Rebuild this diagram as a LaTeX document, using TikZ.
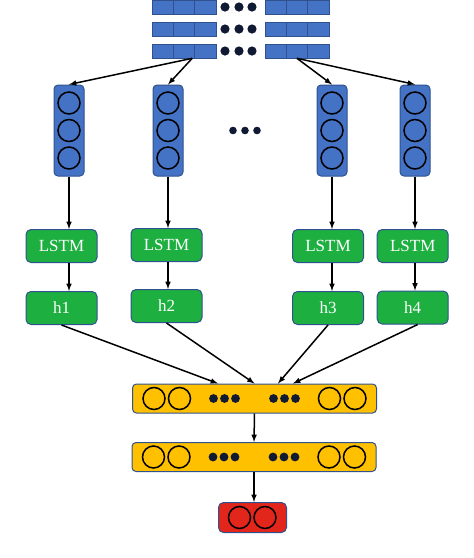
\documentclass[tikz,border=0pt]{standalone}
\usepackage{fontspec}
\setmainfont{Liberation Serif}
\usetikzlibrary{arrows,positioning}

\definecolor{boxblue}{HTML}{4472C4}
\definecolor{edgeblue}{HTML}{2F528F}
\definecolor{boxgreen}{HTML}{1DB040}
\definecolor{boxyellow}{HTML}{FFC000}
\definecolor{boxred}{HTML}{E3261C}
\definecolor{dotnavy}{HTML}{111A33}

\begin{document}
\begin{tikzpicture}[>=latex,x=1pt,y=-1pt,
	cell/.style={draw=edgeblue,fill=boxblue,line width=0.6pt,minimum width=21.3pt,minimum height=14pt,inner sep=0pt},
	column/.style={draw=edgeblue,fill=boxblue,line width=1pt,rounded corners=4pt,minimum width=30pt,minimum height=91pt,inner sep=0pt},
	lstm/.style={draw=edgeblue,fill=boxgreen,line width=1pt,rounded corners=5pt,minimum width=71pt,minimum height=33pt,inner sep=0pt,text=white,font=\fontsize{17}{19}\selectfont},
	bar/.style={draw=edgeblue,fill=boxyellow,line width=1pt,rounded corners=4pt,minimum width=244pt,minimum height=29pt,inner sep=0pt},
	outbox/.style={draw=edgeblue,fill=boxred,line width=1pt,rounded corners=5pt,minimum width=68pt,minimum height=30pt,inner sep=0pt},
	unit/.style={line width=1.5pt},
	link/.style={->,line width=1.5pt}]

\useasboundingbox (0,0) rectangle (474,558);

% input rows
\foreach \r/\y in {1/7,2/29,3/51}{
	\foreach \c in {1,2,3}{
		\node[cell] (el\r\c) at ({141.3+21.3*\c},\y) {};
		\node[cell] (er\r\c) at ({254.35+21.3*\c},\y) {};
	}
	\foreach \x in {225,239,252}
		\fill[dotnavy] (\x,\y) circle[radius=4.6];
}
\coordinate (outl) at ([xshift=-13pt]el33.south);

% embedding columns
\foreach \n/\x in {1/69,2/168,3/332,4/415}{
	\node[column] (col\n) at (\x,130.5) {};
	\foreach \dy in {-27.5,0,27.5}
		\draw[unit] ({\x},{130.5+\dy}) circle[radius=11];
}
\foreach \x in {233,245,257}
	\fill[dotnavy] (\x,130.5) circle[radius=3.8];

\draw[link] (outl) -- (col1.north);
\draw[link] (outl) -- (col2.north);
\draw[link] (er32.south) -- (col3.north);
\draw[link] (er32.south) -- (col4.north);

% lstm cells and outputs
\foreach \n/\x/\ly/\hy in {1/61.5/246/308,2/166.5/245/306,3/328/246/308,4/412.7/246/307.5}{
	\node[lstm] (lstm\n) at (\x,\ly) {LSTM};
	\node[lstm] (h\n) at (\x,\hy) {h\n};
	\draw[link] (col\n.south) -- (col\n.south |- lstm\n.north);
	\draw[link] (col\n.south |- lstm\n.south) -- (col\n.south |- h\n.north);
}

% dense layers
\node[bar] (hid1) at (254.5,398.5) {};
\node[bar] (hid2) at (254,457) {};
\node[outbox] (out) at (252.5,517.5) {};

\foreach \b in {hid1,hid2}{
	\foreach \dx in {-100.5,-75,75,100.5}
		\draw[unit] ([xshift=\dx pt]\b.center) circle[radius=11];
	\foreach \dx in {-41,-30,-19,19,30,41}
		\fill[dotnavy] ([xshift=\dx pt]\b.center) circle[radius=4.4];
}
\foreach \dx in {-13,12.5}
	\draw[unit] ([xshift=\dx pt]out.center) circle[radius=11];

\draw[link] (h1.south) -- ([xshift=-36.5pt]hid1.north);
\draw[link] (h2.south) -- (hid1.north);
\draw[link] (h3.south) -- ([xshift=23.5pt]hid1.north);
\draw[link] ([xshift=5pt]h4.south) -- ([xshift=38.5pt]hid1.north);
\draw[link] (hid1.south) -- (hid2.north);
\draw[link] (hid2.south) -- (hid2.south |- out.north);

\end{tikzpicture}
\end{document}
